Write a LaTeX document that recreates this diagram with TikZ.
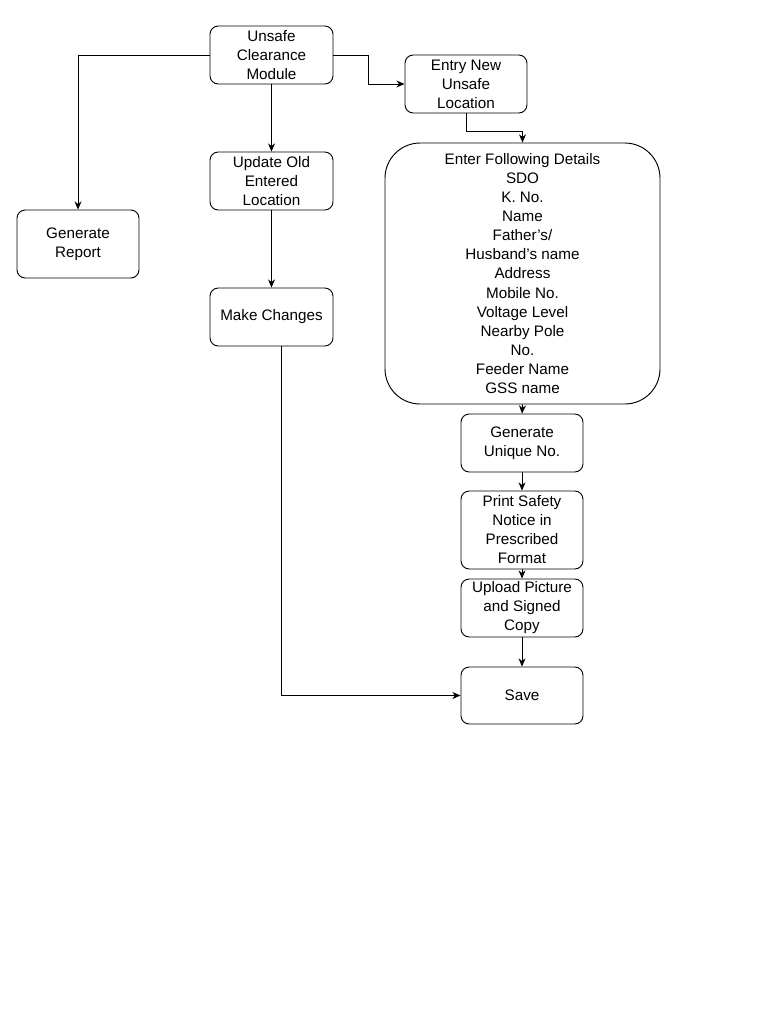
\documentclass[tikz,border=0pt]{standalone}
\usepackage{fontspec}
\setmainfont{Liberation Sans}
\usetikzlibrary{arrows.meta}
\begin{document}
\begin{tikzpicture}[x=0.03cm,y=-0.03cm,
  box/.style={draw, rounded corners=7pt, line width=0.8pt, align=center,
    font=\fontsize{13}{16.2}\selectfont, inner sep=0pt},
  arr/.style={-{Stealth[length=7pt,width=6pt]}, line width=0.8pt}]
\useasboundingbox (0,0) rectangle (768,1024);
\node[box, minimum width=123*0.03cm, minimum height=58*0.03cm] (a) at (271.5,55) {Unsafe\\Clearance\\Module};
\node[box, minimum width=122*0.03cm, minimum height=58*0.03cm] (b) at (466,84) {Entry New\\Unsafe\\Location};
\node[box, minimum width=123*0.03cm, minimum height=58*0.03cm] (c) at (271.5,181) {Update Old\\Entered\\Location};
\node[box, minimum width=122*0.03cm, minimum height=68*0.03cm] (d) at (78,244) {Generate\\Report};
\node[box, minimum width=123*0.03cm, minimum height=58*0.03cm] (e) at (271.5,317) {Make Changes};
\node[box, rounded corners=30pt, minimum width=275*0.03cm, minimum height=261*0.03cm,
  font=\fontsize{13}{16.3}\selectfont] (f) at (522.5,273.5)
  {Enter Following Details\\SDO\\K. No.\\Name\\Father's/\\Husband's name\\Address\\Mobile No.\\Voltage Level\\Nearby Pole\\No.\\Feeder Name\\GSS name};
\node[box, minimum width=122*0.03cm, minimum height=58*0.03cm] (g) at (522,443) {Generate\\Unique No.};
\node[box, minimum width=122*0.03cm, minimum height=78*0.03cm] (h) at (522,530) {Print Safety\\Notice in\\Prescribed\\Format};
\node[box, minimum width=122*0.03cm, minimum height=58*0.03cm] (i) at (522,608) {Upload Picture\\and Signed\\Copy};
\node[box, minimum width=122*0.03cm, minimum height=57*0.03cm] (j) at (522,695.5) {Save};
\draw[arr] (a.west) -| (d.north);
\draw[arr] (a.south) -- (c.north);
\draw[arr] (a.east) -- ++(35,0) |- (b.west);
\draw[arr] (b.south) -- ++(0,18) -| (f.north);
\draw[arr] (c.south) -- (e.north);
\draw[arr] ([xshift=10*0.03cm]e.south) |- (j.west);
\draw[arr] (f.south) -- (g.north);
\draw[arr] (g.south) -- (h.north);
\draw[arr] (h.south) -- (i.north);
\draw[arr] (i.south) -- (j.north);
\end{tikzpicture}
\end{document}
